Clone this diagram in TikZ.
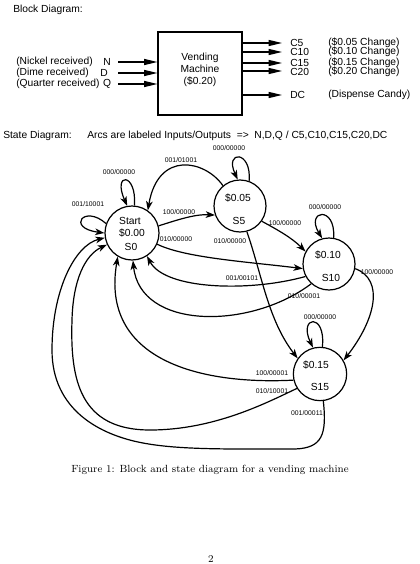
\documentclass[tikz,border=0pt]{standalone}
\usepackage{fontspec}
\newfontfamily\hv{Liberation Sans}
\usetikzlibrary{arrows.meta}
\begin{document}
\begin{tikzpicture}[x=0.75pt,y=-0.75pt,
  txt/.style={font=\hv\fontsize{7.7pt}{9pt}\selectfont, inner sep=0pt},
  small/.style={font=\hv\fontsize{5.1pt}{6pt}\selectfont, inner sep=0pt},
  captxt/.style={font=\fontsize{7.8pt}{9pt}\selectfont, inner sep=0pt},
  bigarr/.style={line width=0.9pt, -{Triangle[length=10pt,width=4.5pt]}},
  state/.style={circle, draw, line width=0.9pt, minimum size=39pt, inner sep=0pt},
  edge/.style={line width=0.9pt, -{Stealth[length=7pt,width=5pt,inset=2pt]}}]
\useasboundingbox (0,0) rectangle (420,564);
% ---------- Block diagram ----------
\node[txt, anchor=west] (bdt) at (13,10) {Block Diagram:};
\node[draw, line width=0.8pt, minimum width=63pt, minimum height=62.25pt, inner sep=0pt] (vm) at (200,73.5) {};
\node[txt, align=center] (vmt) at (200,70) {Vending\\Machine\\(\$0.20)};
% inputs
\node[txt, anchor=west] (dN) at (16,62) {(Nickel received)};
\node[txt, anchor=west] (dD) at (16,73) {(Dime received)};
\node[txt, anchor=west] (dQ) at (16,84) {(Quarter received)};
\node[txt] (lN) at (107,62) {N};
\node[txt] (lD) at (104,73) {D};
\node[txt] (lQ) at (107,84) {Q};
\coordinate (iN) at (118,62);
\coordinate (iD) at (118,73);
\coordinate (iQ) at (118,84);
\draw[bigarr] (iN) -- (iN -| vm.west);
\draw[bigarr] (iD) -- (iD -| vm.west);
\draw[bigarr] (iQ) -- (iQ -| vm.west);
% outputs
\coordinate (o5) at (282,43);
\coordinate (o10) at (282,52);
\coordinate (o15) at (282,63);
\coordinate (o20) at (282,71);
\coordinate (odc) at (282,95);
\draw[bigarr] (o5 -| vm.east) -- (o5);
\draw[bigarr] (o10 -| vm.east) -- (o10);
\draw[bigarr] (o15 -| vm.east) -- (o15);
\draw[bigarr] (o20 -| vm.east) -- (o20);
\draw[bigarr] (odc -| vm.east) -- (odc);
\node[txt, anchor=west] (c5) at (290,43) {C5};
\node[txt, anchor=west] (c10) at (290,52) {C10};
\node[txt, anchor=west] (c15) at (290,62.5) {C15};
\node[txt, anchor=west] (c20) at (290,72) {C20};
\node[txt, anchor=west] (dc) at (290,95) {DC};
\node[txt, anchor=west] (e5) at (328,43) {(\$0.05 Change)};
\node[txt, anchor=west] (e10) at (328,52) {(\$0.10 Change)};
\node[txt, anchor=west] (e15) at (328,62.5) {(\$0.15 Change)};
\node[txt, anchor=west] (e20) at (328,72) {(\$0.20 Change)};
\node[txt, anchor=west] (edc) at (328,95) {(Dispense Candy)};
% ---------- State diagram header ----------
\node[txt, anchor=west] (sdt) at (3,136) {State Diagram:};
\node[txt, anchor=west] (arcs) at (87,136) {Arcs are labeled Inputs/Outputs \ =>\ \ N,D,Q / C5,C10,C15,C20,DC};
% ---------- States ----------
\node[state, minimum size=40.5pt] (s0) at (132,233) {};
\node[state] (s5) at (240,206) {};
\node[state] (s10) at (329,264) {};
\node[state, minimum size=40pt] (s15) at (320,374) {};
\node[txt] (t0a) at (130,221) {Start};
\node[txt] (t0b) at (132,233) {\$0.00};
\node[txt] (t0c) at (131,247) {S0};
\node[txt] (t5a) at (238,198) {\$0.05};
\node[txt] (t5b) at (239,221) {S5};
\node[txt] (t10a) at (328,255) {\$0.10};
\node[txt] (t10b) at (331,278) {S10};
\node[txt] (t15a) at (316,365) {\$0.15};
\node[txt] (t15b) at (320,387) {S15};
% ---------- Transitions ----------
% S0
\draw[edge] (s0.85) .. controls (137,172) and (112,172) .. (s0.100);
\node[small] (l1) at (119,172) {000/00000};
\draw[edge] (s0.160) .. controls (84,204) and (66,228) .. (s0.180);
\node[small] (l2) at (88,204) {001/10001};
\draw[edge] (s0.15) .. controls (180,219) and (196,214) .. (s5.200);
\node[small] (l3) at (179,212) {100/00000};
\draw[edge] (s0.-24) .. controls (185,258) and (250,262) .. (s10.190);
\node[small] (l4) at (176,239) {010/00000};
% S5
\draw[edge] (s5.130) .. controls (205,160) and (158,150) .. (s0.55);
\node[small] (l5) at (181,160) {001/01001};
\draw[edge] (s5.70) .. controls (252,150) and (224,150) .. (s5.95);
\node[small] (l6) at (229,148) {000/00000};
\draw[edge] (s5.-35) .. controls (278,230) and (292,238) .. (s10.152);
\node[small] (l7) at (285,223) {100/00000};
\draw[edge] (s5.-75) .. controls (262,275) and (268,320) .. (s15.145);
\node[small] (l8) at (230,241) {010/00000};
% S10
\draw[edge] (s10.80) .. controls (336,205) and (305,210) .. (s10.105);
\node[small] (l9) at (325,207) {000/00000};
\draw[edge] (s10.208) .. controls (250,292) and (165,290) .. (s0.-57);
\node[small] (l10) at (242,278) {001/00101};
\draw[edge] (s10.228) .. controls (250,330) and (140,330) .. (s0.-88);
\node[small] (l11) at (304,296) {010/00001};
\draw[edge] (s10.-10) .. controls (385,280) and (375,320) .. (s15.30);
\node[small] (l12) at (377,272) {100/00000};
% S15
\draw[edge] (s15.85) .. controls (326,312) and (298,316) .. (s15.105);
\node[small] (l13) at (320,317) {000/00000};
\draw[edge] (s15.193) .. controls (200,385) and (100,360) .. (s0.-121);
\node[small] (l14) at (272,373) {100/00001};
\draw[edge] (s15.212) .. controls (268,402) and (215,430) .. (150,430)
  .. controls (80,430) and (70,380) .. (72,320)
  .. controls (73,280) and (85,255) .. (s0.205);
\node[small] (l15) at (272,391) {010/10001};
\draw[edge] (s15.-83) .. controls (327,435) and (322,448) .. (295,449)
  .. controls (230,449) and (180,450) .. (143,443)
  .. controls (100,435) and (52,410) .. (52,350)
  .. controls (52,290) and (75,245) .. (s0.190);
\node[small] (l16) at (307,413) {001/00011};
% ---------- Caption ----------
\node[captxt] (capt) at (210,470) {Figure 1: Block and state diagram for a vending machine};
\node[captxt] (pg) at (211,559) {2};
\end{tikzpicture}
\end{document}
